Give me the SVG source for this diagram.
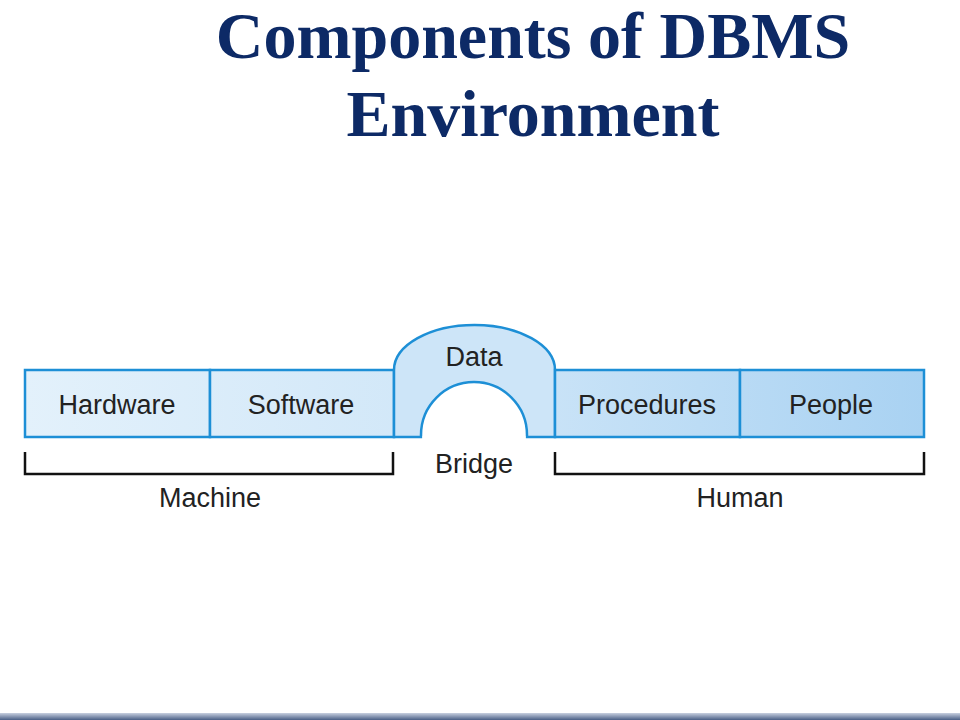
<svg xmlns="http://www.w3.org/2000/svg" width="960" height="720" viewBox="0 0 960 720">
<defs>
<linearGradient id="g" gradientUnits="userSpaceOnUse" x1="25" x2="924" y1="0" y2="0"><stop offset="0" stop-color="#e3f1fb"/><stop offset="0.5" stop-color="#cfe6f8"/><stop offset="1" stop-color="#a9d2f2"/></linearGradient>
<linearGradient id="b" x1="0" x2="0" y1="0" y2="1"><stop offset="0" stop-color="#c8d0e0"/><stop offset="1" stop-color="#4a5f86"/></linearGradient>
<style>.t{font-family:"Liberation Sans",Arial,sans-serif;font-size:27px;fill:#222;text-anchor:middle}.s{stroke:#1d8fd6;stroke-width:2.5;fill:none}.k{stroke:#111;stroke-width:2.5;fill:none}</style>
</defs>
<rect width="960" height="720" fill="#fff"/>
<rect y="713" width="960" height="7" fill="url(#b)"/>
<text x="533" y="58" font-family="Liberation Serif,serif" font-weight="bold" font-size="66" fill="#0d2a66" text-anchor="middle">Components of DBMS</text>
<text x="533" y="136" font-family="Liberation Serif,serif" font-weight="bold" font-size="66" fill="#0d2a66" text-anchor="middle">Environment</text>
<g id="hardware"><rect x="25" y="370" width="185" height="67" fill="url(#g)" class="s" style="fill:url(#g)"/><text class="t" x="117" y="414">Hardware</text></g>
<g id="software"><rect x="210" y="370" width="184" height="67" class="s" style="fill:url(#g)"/><text class="t" x="301" y="414">Software</text></g>
<g id="data"><path d="M394 437 V370 A80.5 45 0 0 1 555 370 V437 H527 V435 A53 53 0 0 0 421 435 V437 Z" fill="#cde5f8" class="s" style="fill:#cde5f8"/><rect x="422.5" y="436" width="103" height="3" fill="#fff"/><text class="t" x="474" y="366">Data</text></g>
<g id="procedures"><rect x="555" y="370" width="185" height="67" class="s" style="fill:url(#g)"/><text class="t" x="647" y="414">Procedures</text></g>
<g id="people"><rect x="740" y="370" width="184" height="67" class="s" style="fill:url(#g)"/><text class="t" x="831" y="414">People</text></g>
<g id="connectors">
<path d="M25 452 V474 H393 V452" class="k"/>
<path d="M555 452 V474 H924 V452" class="k"/>
</g>
<text class="t" x="474" y="473">Bridge</text>
<text class="t" x="210" y="507">Machine</text>
<text class="t" x="740" y="507">Human</text>
</svg>
